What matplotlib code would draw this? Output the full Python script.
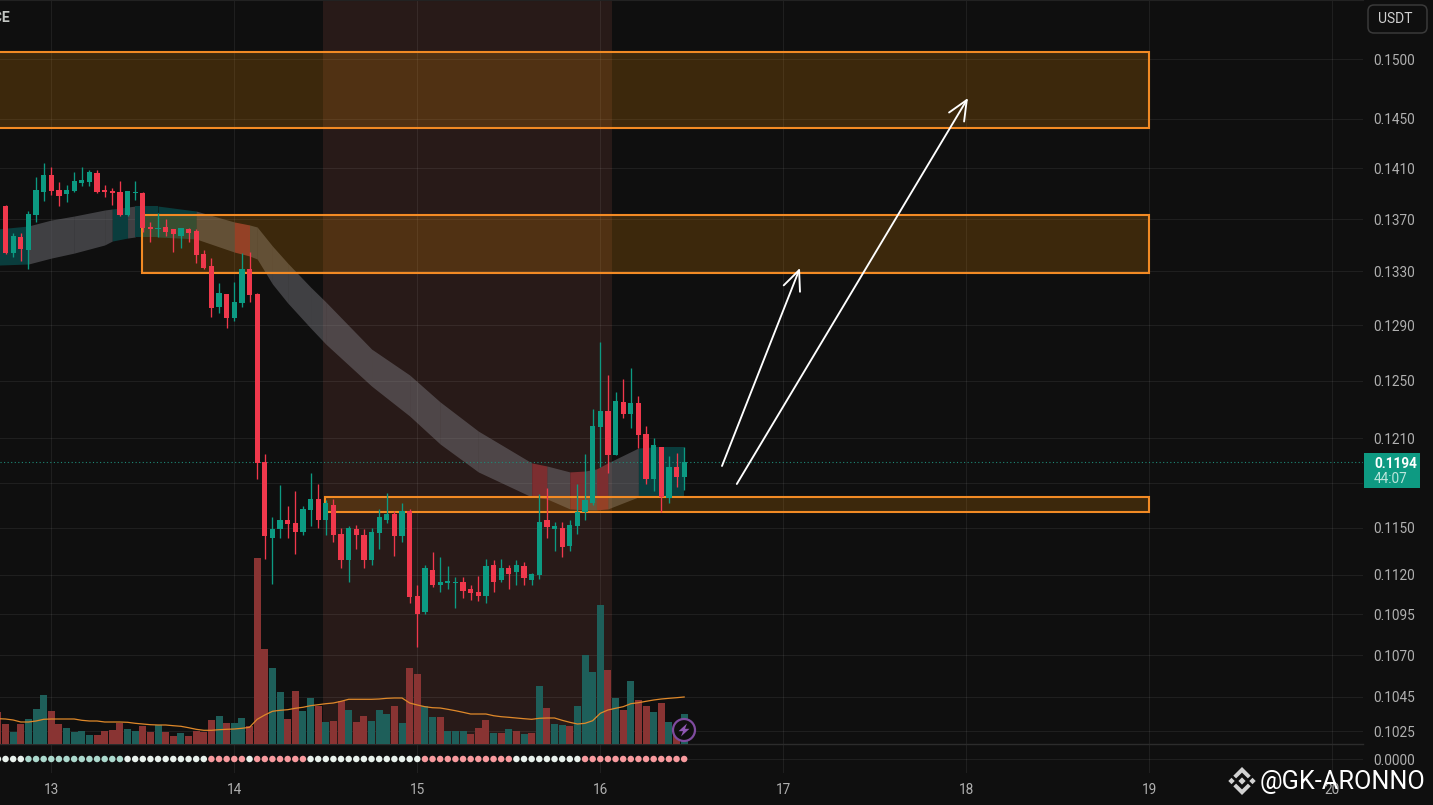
import matplotlib
matplotlib.use('Agg')
import matplotlib.pyplot as plt
from matplotlib.patches import Rectangle, FancyBboxPatch, Circle, Polygon
from matplotlib.ticker import NullLocator, FixedLocator, FixedFormatter

plt.rcParams['font.family'] = ['Roboto', 'DejaVu Sans']

# ---------- data ----------
price_ticks = [0.1500, 0.1450, 0.1410, 0.1370, 0.1330, 0.1290, 0.1250, 0.1210, 0.1180,
               0.1150, 0.1120, 0.1095, 0.1070, 0.1045, 0.1025]
price_labels = ['0.1500', '0.1450', '0.1410', '0.1370', '0.1330', '0.1290', '0.1250', '0.1210', '',
                '0.1150', '0.1120', '0.1095', '0.1070', '0.1045', '0.1025']
day_ticks = [13, 14, 15, 16, 17, 18, 19, 20]
last_price = 0.1194

# hourly candles; first candle is 6 hours before day 13
first_hour = -6
opens = [0.13801, 0.13438, 0.13561, 0.13461, 0.13731, 0.13911, 0.14046, 0.13927, 0.13895, 0.13919,
         0.13982, 0.13990, 0.14062, 0.13927, 0.13919, 0.13911, 0.13731, 0.13903, 0.13903, 0.13638,
         0.13622, 0.13638, 0.13622, 0.13569, 0.13622, 0.13607, 0.13430, 0.13340, 0.13035, 0.13131,
         0.12953, 0.13064, 0.13318, 0.13131,
         0.11939, 0.11435, 0.11494, 0.11552, 0.11533, 0.11474, 0.11618, 0.11691, 0.11552, 0.11651,
         0.11461, 0.11294, 0.11494, 0.11455, 0.11294, 0.11468, 0.11552, 0.11591, 0.11448, 0.11611,
         0.11065, 0.10965, 0.11230, 0.11135, 0.11147, 0.11147, 0.11153, 0.11109, 0.11090, 0.11065,
         0.11262, 0.11166, 0.11243, 0.11217, 0.11256, 0.11166, 0.11198, 0.11552, 0.11494, 0.11500,
         0.11383, 0.11513, 0.11605, 0.11665, 0.12176, 0.12288, 0.11986, 0.12351, 0.12267, 0.12344,
         0.12129, 0.11824, 0.12040, 0.11697, 0.11905, 0.11837]
highs = [0.13809, 0.13592, 0.13592, 0.13762, 0.14030, 0.14142, 0.14110, 0.13990, 0.13966, 0.14070,
         0.14110, 0.14086, 0.14086, 0.13966, 0.13943, 0.13998, 0.13919, 0.13998, 0.13911, 0.13677,
         0.13747, 0.13700, 0.13622, 0.13630, 0.13630, 0.13622, 0.13461, 0.13400, 0.13212, 0.13131,
         0.13220, 0.13438, 0.13446, 0.13138,
         0.11992, 0.11572, 0.11783, 0.11644, 0.11743, 0.11644, 0.11864, 0.11790, 0.11684, 0.11691,
         0.11500, 0.11513, 0.11520, 0.11494, 0.11500, 0.11625, 0.11730, 0.11611, 0.11665, 0.11625,
         0.11135, 0.11262, 0.11345, 0.11313, 0.11256, 0.11186, 0.11186, 0.11135, 0.11192, 0.11300,
         0.11294, 0.11300, 0.11262, 0.11294, 0.11281, 0.11211, 0.11723, 0.11763, 0.11539, 0.11539,
         0.11552, 0.11790, 0.11992, 0.12302, 0.12778, 0.12541, 0.12421, 0.12513, 0.12591, 0.12393,
         0.12183, 0.12101, 0.12040, 0.11979, 0.11999, 0.12040]
lows = [0.13430, 0.13408, 0.13378, 0.13318, 0.13677, 0.13840, 0.13887, 0.13801, 0.13832, 0.13911,
        0.13958, 0.13958, 0.13903, 0.13872, 0.13809, 0.13723, 0.13723, 0.13848, 0.13600, 0.13523,
        0.13561, 0.13569, 0.13446, 0.13477, 0.13523, 0.13363, 0.13318, 0.12960, 0.12990, 0.12880,
        0.12931, 0.13035, 0.13071, 0.11824,
        0.11300, 0.11141, 0.11435, 0.11435, 0.11332, 0.11455, 0.11513, 0.11500, 0.11455, 0.11409,
        0.11243, 0.11153, 0.11364, 0.11243, 0.11262, 0.11364, 0.11533, 0.11319, 0.11409, 0.11021,
        0.10751, 0.10953, 0.11122, 0.11090, 0.11109, 0.10990, 0.11052, 0.11040, 0.11034, 0.11021,
        0.11090, 0.11153, 0.11109, 0.11135, 0.11135, 0.11135, 0.11173, 0.11435, 0.11351, 0.11313,
        0.11351, 0.11461, 0.11552, 0.11651, 0.11905, 0.11864, 0.11986, 0.12239, 0.12170, 0.12033,
        0.11790, 0.11743, 0.11605, 0.11665, 0.11770, 0.11750]
closes = [0.13438, 0.13569, 0.13469, 0.13739, 0.13927, 0.14046, 0.13919, 0.13880, 0.13927, 0.13998,
          0.14006, 0.14070, 0.13911, 0.13911, 0.13903, 0.13731, 0.13919, 0.13911, 0.13630, 0.13622,
          0.13630, 0.13600, 0.13584, 0.13630, 0.13592, 0.13423, 0.13325, 0.13027, 0.13138, 0.12953,
          0.13071, 0.13318, 0.13123, 0.11932,
          0.11448, 0.11494, 0.11552, 0.11526, 0.11474, 0.11625, 0.11691, 0.11552, 0.11665, 0.11455,
          0.11294, 0.11500, 0.11455, 0.11294, 0.11474, 0.11572, 0.11591, 0.11448, 0.11611, 0.11059,
          0.10953, 0.11243, 0.11135, 0.11153, 0.11160, 0.11153, 0.11097, 0.11084, 0.11065, 0.11256,
          0.11153, 0.11243, 0.11205, 0.11262, 0.11179, 0.11205, 0.11539, 0.11507, 0.11513, 0.11377,
          0.11520, 0.11605, 0.11684, 0.12183, 0.12288, 0.11986, 0.12358, 0.12267, 0.12344, 0.12122,
          0.11824, 0.12054, 0.11704, 0.11905, 0.11837, 0.11939]

# volume pane; first bar is 7 hours before day 13 (relative units)
vol_first_hour = -7
volumes = [32, 20, 12, 20, 25, 35, 49, 33, 20, 16, 12, 13, 9, 9, 13, 14, 21, 15, 13, 18, 12, 19, 12,
           8, 11, 8, 13, 12, 24, 28, 21, 21, 26, 18, 186, 95, 76, 52, 25, 53, 33, 46, 38, 22, 23, 43,
           34, 22, 28, 23, 34, 30, 38, 21, 76, 70, 38, 27, 27, 13, 13, 13, 10, 16, 24, 11, 11, 15, 13,
           10, 11, 58, 36, 20, 19, 18, 38, 89, 72, 139, 74, 46, 34, 63, 44, 38, 32, 41, 22, 9, 30]
vol_sides = list('rrgrgggrrggggrrrrggrrgrrgrrrrgrggrrrggrrggrgrrgrrgggrgrrggrgggrrrgrgrgrgrggrggggrgrgrrgrgrg')
vol_ma = [25.3, 25, 24, 22, 22, 23, 24.7, 25, 25, 25, 25, 23.7, 23, 23, 22, 22, 22, 21.7, 20.7, 20, 19.3,
          19, 19, 18.3, 17.7, 16.3, 14.7, 13.7, 13.7, 14.3, 14.7, 15, 15.7, 16.7, 24.7, 29, 32.7, 33.7,
          34.3, 35.7, 36.7, 38.3, 39.3, 40.3, 41, 42.7, 44.7, 44.7, 44.7, 44.7, 45, 45.7, 46, 46, 41, 39,
          37.3, 36.3, 36, 34.7, 33.3, 31.7, 30, 30, 30, 28.3, 27.3, 26.7, 26, 25.3, 24.7, 25.7, 26, 26,
          23.7, 21.7, 20, 20.7, 23.3, 30.7, 34, 35.7, 37.3, 40.3, 41.3, 42.7, 44, 45, 45.7, 46.3, 47]

# lower pane dots: w white, t light teal, p pink
dot_states = list('w' * 4 + 't' * 13 + 'w' * 11 + 'p' * 5 + 'w' + 'p' * 7 + 'w' * 15 + 'p' * 12 + 'w' * 9 + 'p' * 14)

# moving-average ribbon
ribbon_hours = [-7, -3, 0, 3, 7, 8, 10, 11, 14, 19, 24, 26, 27, 29, 31, 34, 36, 42, 47, 51, 56, 63, 65, 68, 70,
                71.5, 73, 77, 79, 83]
ribbon_upper = [0.13623, 0.13646, 0.13692, 0.13723, 0.13770, 0.13778, 0.13793, 0.13801, 0.13801, 0.13762,
                0.13677, 0.13654, 0.13638, 0.13492, 0.13362, 0.13182, 0.13071, 0.12727, 0.12541, 0.12351,
                0.12149, 0.11932, 0.11911, 0.11871, 0.11877, 0.11891, 0.11932, 0.12033, 0.12040, 0.12040]
ribbon_lower = [0.13347, 0.13355, 0.13400, 0.13438, 0.13500, 0.13530, 0.13553, 0.13561, 0.13561, 0.13546,
                0.13446, 0.13416, 0.13393, 0.13205, 0.13064, 0.12880, 0.12763, 0.12463, 0.12253, 0.12060,
                0.11871, 0.11704, 0.11691, 0.11625, 0.11618, 0.11618, 0.11625, 0.11704, 0.11710, 0.11710]
ribbon_states = ['t', 'g', 'g', 'g', 'g', 't', 'g', 't', 't', 'g', 'r', 'g', 'g', 'g', 'g', 'g', 'g', 'g', 'g', 'g', 'g',
                 'r', 'g', 'r', 'g', 'r', 'g', 't', 't']

# analyst zones: left day, right day, bottom price, top price
zone_left = [12.0, 13.4956, 14.4956]
zone_right = [18.998, 18.998, 18.998]
zone_low = [0.14425, 0.13287, 0.11605]
zone_high = [0.15060, 0.13731, 0.11704]
session_span = (14.485, 16.065)

# arrows: start day, start price, end day, end price
arrow_x0 = [16.665, 16.746]
arrow_y0 = [0.11911, 0.11790]
arrow_x1 = [17.091, 18.009]
arrow_y1 = [0.13325, 0.14672]

# ---------- style ----------
BG = '#0f0f0f'
UP = '#0c9a82'
DOWN = '#f0384c'
GRID = '#ffffff'
TXT = '#b0b0b0'
W, H = 1433, 805
RIGHT = 1363

fig = plt.figure(figsize=(W / 100, H / 100), dpi=100, facecolor=BG)

ax = fig.add_axes([0, (H - 744) / H, RIGHT / W, 744 / H], facecolor=BG)
ax.set_yscale('log')
XLIM = (12.7197, 20.1678)
ax.set_xlim(*XLIM)
ax.set_ylim(0.10175, 0.15510)
ax.yaxis.set_minor_locator(NullLocator())
ax.yaxis.set_major_locator(FixedLocator(price_ticks))
ax.yaxis.set_major_formatter(FixedFormatter(price_labels))
ax.yaxis.tick_right()
ax.set_xticks(day_ticks)
ax.set_axisbelow(True)
ax.grid(True, color=GRID, alpha=0.07, lw=0.8)
ax.tick_params(axis='y', length=0, pad=7.2, labelcolor=TXT, labelsize=9.8)
ax.tick_params(axis='x', length=0, labelbottom=False)
for side in ('left', 'right', 'bottom'):
    ax.spines[side].set_visible(False)
ax.spines['top'].set_color('#222222')


def hx(h):
    return 13 + h / 24


ax.axvspan(*session_span, color='#281a18', lw=0, zorder=0.4)

# ribbon
ribbon_colors = {'g': ('#85858c', 0.42), 't': ('#0a3d3d', 1.0), 'r': ('#7c2e30', 1.0)}
for i, state in enumerate(ribbon_states):
    c, a = ribbon_colors[state]
    ax.fill_between([hx(ribbon_hours[i]), hx(ribbon_hours[i + 1])],
                    [ribbon_lower[i], ribbon_lower[i + 1]],
                    [ribbon_upper[i], ribbon_upper[i + 1]],
                    color=c, alpha=a, lw=0, zorder=2)

# zones
for l, r, lo, hi in zip(zone_left, zone_right, zone_low, zone_high):
    ax.add_patch(Rectangle((l, lo), r - l, hi - lo, facecolor='#ff9800', alpha=0.19, lw=0, zorder=3))
    ax.add_patch(Rectangle((l, lo), r - l, hi - lo, facecolor='none', edgecolor='#f28a24', lw=1.5, zorder=3.2))

# last price line
ax.axhline(last_price, color='#1f8a78', ls=(0, (1, 2.2)), lw=0.8, zorder=3.5)

# candles
for i, (o, hi, lo, c) in enumerate(zip(opens, highs, lows, closes)):
    x = hx(first_hour + i)
    col = UP if c >= o else DOWN
    ax.vlines(x, lo, hi, color=col, lw=0.95, zorder=4)
    ax.bar(x, abs(c - o), bottom=min(o, c), width=0.68 / 24, color=col, lw=0, zorder=4.1)

# arrows
for x0, y0, x1, y1 in zip(arrow_x0, arrow_y0, arrow_x1, arrow_y1):
    ax.annotate('', xy=(x1, y1), xytext=(x0, y0), zorder=6,
                arrowprops=dict(arrowstyle='->,head_length=0.95,head_width=0.42', color='white', lw=1.35,
                                mutation_scale=15, shrinkA=0, shrinkB=0))

# volume overlay
vax = fig.add_axes([0, (H - 744) / H, RIGHT / W, 744 / H], facecolor='none', zorder=3)
vax.set_xlim(*XLIM)
vax.set_ylim(0, 744)
vax.axis('off')
vx = [hx(vol_first_hour + i) for i in range(len(volumes))]
vax.bar(vx, volumes, width=0.92 / 24, lw=0,
        color=['#1e5f5a' if s == 'g' else '#893433' for s in vol_sides])
vax.plot(vx, vol_ma, color='#e0892a', lw=0.9)

# lower pane
pax = fig.add_axes([0, (H - 773) / H, RIGHT / W, 29 / H], facecolor=BG)
pax.set_xlim(*XLIM)
pax.set_ylim(-14, 15)
pax.set_xticks(day_ticks)
pax.set_yticks([0])
pax.set_yticklabels(['0.0000'])
pax.yaxis.tick_right()
pax.grid(True, color=GRID, alpha=0.07, lw=0.8)
pax.set_axisbelow(True)
pax.tick_params(axis='y', length=0, pad=7.2, labelcolor=TXT, labelsize=9.8)
pax.tick_params(axis='x', length=0, pad=7.5, labelcolor=TXT, labelsize=9.8)
for side in ('left', 'right', 'bottom'):
    pax.spines[side].set_visible(False)
pax.spines['top'].set_color('#2c2c2c')
pax.spines['top'].set_linewidth(1.0)
dot_colors = {'w': '#e8f1ec', 't': '#acd9cd', 'p': '#f79a9e'}
pax.scatter(vx, [0] * len(vx), s=22, color=[dot_colors[s] for s in dot_states], lw=0, zorder=3, clip_on=True)

# overlay in pixels for chrome and labels
oax = fig.add_axes([0, 0, 1, 1], facecolor='none', zorder=5)
oax.set_xlim(0, W)
oax.set_ylim(H, 0)
oax.axis('off')

oax.text(10, 18, 'BINANCE', ha='right', va='center', color='#c4c7c4', fontsize=10, fontweight='bold')
oax.add_patch(FancyBboxPatch((1372, 9), 51, 20, boxstyle='round,pad=4,rounding_size=6',
                             facecolor='none', edgecolor='#3a3a3a', lw=1.1))
oax.text(1395, 19, 'USDT', ha='center', va='center', color='#d0d0d0', fontsize=10)

oax.add_patch(Rectangle((1364, 453), 56, 35, facecolor='#0e9a82', lw=0))
oax.text(1374, 463.5, '0.1194', ha='left', va='center', color='white', fontsize=9.8, fontweight='bold')
oax.text(1374, 479, '44:07', ha='left', va='center', color='#bce6dc', fontsize=9.8)

# lightning badge
oax.add_patch(Circle((684, 730), 11, facecolor=BG, edgecolor='#7f4b9f', lw=1.6))
bx, by = 684, 730
oax.add_patch(Polygon([(bx + 3, by - 6.5), (bx - 5.5, by + 1.2), (bx - 1, by + 1.2), (bx - 3, by + 6.5),
                       (bx + 5.5, by - 1.2), (bx + 1, by - 1.2)], color='#8f57b3', lw=0))

# watermark
oax.text(1260, 781.5, '@GK-ARONNO', ha='left', va='center', color='white', fontsize=18.2, family='Roboto')
cx, cy = 1242, 781
logo = '#d2d2d2'
oax.add_patch(Polygon([(cx, cy - 3.6), (cx + 3.6, cy), (cx, cy + 3.6), (cx - 3.6, cy)], color=logo, lw=0))
oax.add_patch(Polygon([(cx - 10.5, cy - 3.2), (cx - 7.3, cy), (cx - 10.5, cy + 3.2), (cx - 13.7, cy)], color=logo, lw=0))
oax.add_patch(Polygon([(cx + 10.5, cy - 3.2), (cx + 13.7, cy), (cx + 10.5, cy + 3.2), (cx + 7.3, cy)], color=logo, lw=0))
oax.add_patch(Polygon([(cx, cy - 14), (cx + 8.7, cy - 5.3), (cx + 5.9, cy - 2.6), (cx, cy - 8.4),
                       (cx - 5.9, cy - 2.6), (cx - 8.7, cy - 5.3)], color=logo, lw=0))
oax.add_patch(Polygon([(cx, cy + 14), (cx + 8.7, cy + 5.3), (cx + 5.9, cy + 2.6), (cx, cy + 8.4),
                       (cx - 5.9, cy + 2.6), (cx - 8.7, cy + 5.3)], color=logo, lw=0))

fig.savefig('out.png', dpi=100, facecolor=BG)
